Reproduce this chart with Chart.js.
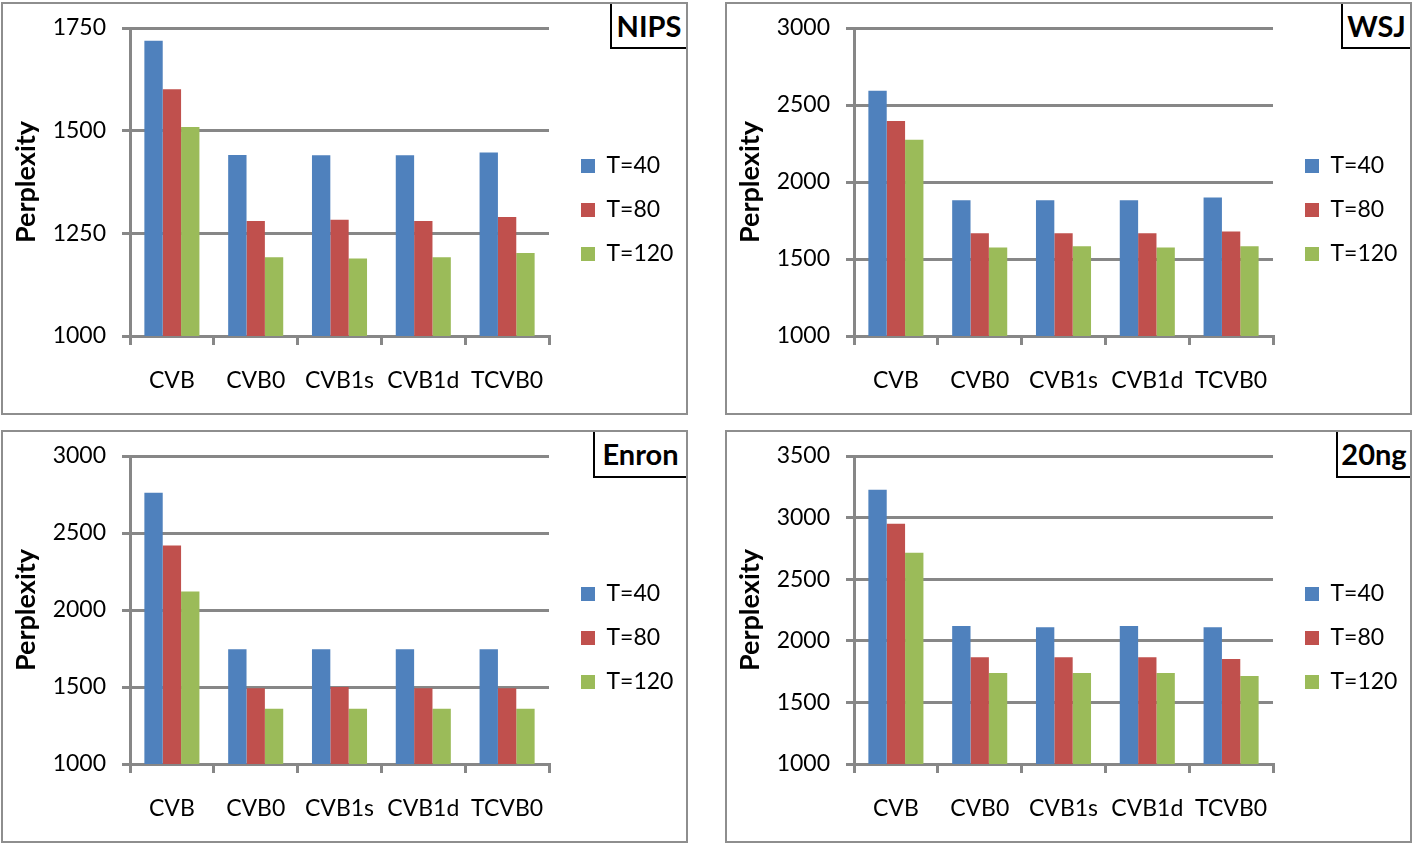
<!DOCTYPE html>
<html>
<head>
<meta charset="utf-8">
<script src="https://cdn.jsdelivr.net/npm/chart.js@4.4.1/dist/chart.umd.min.js"></script>
<style>
  html, body { margin: 0; padding: 0; background: #fff; width: 1416px; height: 846px; overflow: hidden; }
  .panel { position: absolute; box-sizing: border-box; width: 687px; height: 413px; border: 2px solid #8e8e8e; background: #fff; }
  .panel canvas { position: absolute; left: 0; top: 0; }
  .tag { position: absolute; top: 0; right: 0; box-sizing: border-box; border-left: 2px solid #000; border-bottom: 2px solid #000;
         font-family: Lato, sans-serif; font-weight: bold; font-size: 29px; color: #000; text-align: center; background: #fff; }
</style>
</head>
<body>
<div class="panel" style="left:1px; top:2px;"><canvas id="c1" width="683" height="409"></canvas><div class="tag" id="t1"></div></div>
<div class="panel" style="left:725px; top:2px;"><canvas id="c2" width="683" height="409"></canvas><div class="tag" id="t2"></div></div>
<div class="panel" style="left:1px; top:430px;"><canvas id="c3" width="683" height="409"></canvas><div class="tag" id="t3"></div></div>
<div class="panel" style="left:725px; top:430px;"><canvas id="c4" width="683" height="409"></canvas><div class="tag" id="t4"></div></div>
<script>
// ---------- data ----------
const categories = ['CVB', 'CVB0', 'CVB1s', 'CVB1d', 'TCVB0'];
const seriesLabels = ['T=40', 'T=80', 'T=120'];
const panelTitles = ['NIPS', 'WSJ', 'Enron', '20ng'];
const yAxisTitle = 'Perplexity';

const nips40  = [1719, 1441, 1440, 1440, 1447];
const nips80  = [1601, 1280, 1283, 1280, 1290];
const nips120 = [1509, 1192, 1189, 1192, 1202];

const wsj40  = [2593, 1881, 1881, 1881, 1900];
const wsj80  = [2396, 1667, 1667, 1667, 1678];
const wsj120 = [2274, 1574, 1583, 1574, 1583];

const enron40  = [2762, 1745, 1745, 1745, 1745];
const enron80  = [2419, 1492, 1500, 1492, 1492];
const enron120 = [2120, 1358, 1358, 1358, 1358];

const ng40  = [3227, 2121, 2110, 2121, 2110];
const ng80  = [2950, 1866, 1866, 1866, 1853];
const ng120 = [2715, 1739, 1739, 1739, 1715];

const yMins  = [1000, 1000, 1000, 1000];
const yMaxs  = [1750, 3000, 3000, 3500];
const ySteps = [250, 500, 500, 500];

// ---------- styles ----------
const colors = ['#4F81BD', '#C0504D', '#9BBB59'];
const gridGray = '#878787';
Chart.defaults.font.family = 'Lato, sans-serif';
Chart.defaults.color = '#000';

const LAYOUT = { yAxisW: 127, xAxisH: 77, top: 24, legendW: 137, legendX: 578, legendMidY: 206 };
const TAGS = [
  { left: 607, height: 45 },
  { left: 614, height: 45 },
  { left: 590, height: 46 },
  { left: 609, height: 46 }
];

const legendPlugin = {
  id: 'legendPlace',
  beforeInit(chart) {
    const lg = chart.legend;
    if (lg && !lg._patched) {
      const f = lg.fit;
      lg.fit = function () { f.call(this); this.width = LAYOUT.legendW; };
      lg._patched = true;
    }
  },
  afterLayout(chart) {
    const lg = chart.legend;
    if (!lg) return;
    const pad = lg.options.labels.padding;
    lg.left = LAYOUT.legendX - pad;
    lg.right = lg.left + lg.width;
    const mid = (lg.top + lg.bottom) / 2;
    const d = LAYOUT.legendMidY - mid;
    lg.top += d; lg.bottom += d;
  }
};

function makeChart(id, idx, s40, s80, s120) {
  const series = [s40, s80, s120];
  const ctx = document.getElementById(id);
  return new Chart(ctx, {
    type: 'bar',
    data: {
      labels: categories,
      datasets: series.map((d, i) => ({
        label: seriesLabels[i],
        data: d,
        backgroundColor: colors[i],
        borderWidth: 0,
        categoryPercentage: 0.657,
        barPercentage: 1.0
      }))
    },
    options: {
      responsive: false,
      animation: false,
      devicePixelRatio: 1,
      layout: { padding: { top: LAYOUT.top, left: 0, right: 0, bottom: 0 } },
      plugins: {
        legend: {
          position: 'right',
          align: 'center',
          labels: { boxWidth: 14, boxHeight: 14, padding: 21, color: '#000', font: { size: 23 } }
        },
        tooltip: { enabled: false },
        title: { display: false }
      },
      scales: {
        x: {
          type: 'category',
          offset: true,
          grid: { offset: true, drawOnChartArea: false, drawTicks: true, tickLength: 9, lineWidth: 3, color: gridGray },
          border: { display: true, color: gridGray, width: 3 },
          ticks: { color: '#000', font: { size: 23 }, padding: 22, maxRotation: 0, autoSkip: false },
          afterFit(scale) { scale.height = LAYOUT.xAxisH; }
        },
        y: {
          min: yMins[idx],
          max: yMaxs[idx],
          ticks: { stepSize: ySteps[idx], color: '#000', font: { size: 23 }, padding: 16,
                   callback: (v) => String(v) },
          grid: { color: gridGray, lineWidth: 3, drawTicks: true, tickLength: 8 },
          border: { display: true, color: gridGray, width: 3 },
          title: { display: true, text: yAxisTitle, color: '#000', font: { size: 27, weight: 'bold' }, padding: { top: 7, bottom: 0 } },
          afterFit(scale) { scale.width = LAYOUT.yAxisW; scale.paddingTop = 0; scale.paddingBottom = 0; }
        }
      }
    },
    plugins: [legendPlugin]
  });
}

makeChart('c1', 0, nips40, nips80, nips120);
makeChart('c2', 1, wsj40, wsj80, wsj120);
makeChart('c3', 2, enron40, enron80, enron120);
makeChart('c4', 3, ng40, ng80, ng120);

['t1', 't2', 't3', 't4'].forEach((id, i) => {
  const el = document.getElementById(id);
  el.textContent = panelTitles[i];
  el.style.left = TAGS[i].left + 'px';
  el.style.height = TAGS[i].height + 'px';
  el.style.lineHeight = (TAGS[i].height - 2) + 'px';
});
</script>
</body>
</html>
